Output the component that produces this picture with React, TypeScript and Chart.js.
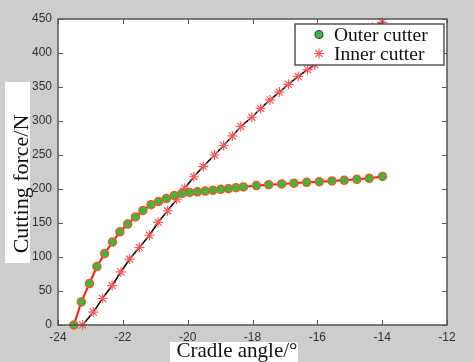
import React, { useEffect, useRef } from "react";
import { Chart, registerables } from "chart.js";

Chart.register(...registerables);

const outerX = [
  -23.51, -23.28, -23.03, -22.8, -22.56, -22.32, -22.09, -21.85, -21.61, -21.38,
  -21.13, -20.9, -20.66, -20.41, -20.17, -19.94, -19.7, -19.46, -19.22, -18.98,
  -18.74, -18.51, -18.28, -17.88, -17.5, -17.1, -16.72, -16.33, -15.94, -15.55,
  -15.17, -14.78, -14.4, -13.99,
];
const outerY = [
  0, 34, 61, 86, 105, 122, 137, 148.5, 159, 168.5,
  177, 181.5, 186, 190.5, 193.5, 195, 195.8, 197, 198, 199.6,
  200.5, 202, 203, 205, 206.3, 207.5, 208.5, 209.8, 210.8, 211.8,
  212.8, 214.3, 215.7, 218.5,
];
const innerX = [
  -23.24, -22.91, -22.63, -22.33, -22.06, -21.79, -21.49, -21.18, -20.91, -20.62,
  -20.34, -20.09, -19.81, -19.52, -19.17, -18.89, -18.62, -18.36, -18.02, -17.75,
  -17.46, -17.17, -16.89, -16.59, -16.3, -16.08, -15.8, -15.5, -15.2, -14.9,
  -14.6, -14.3, -14.0,
];
const innerY = [
  0, 19, 39, 58, 78, 97, 114, 132, 151, 168,
  185, 201, 218, 233, 250, 264, 278, 292, 305.5, 318.5,
  331, 342.5, 354, 365.5, 375.5, 382.5, 392, 402, 412, 421,
  430, 438, 445,
];
const xTicks = [-24, -22, -20, -18, -16, -14, -12];
const yTicks = [0, 50, 100, 150, 200, 250, 300, 350, 400, 450];
const legendLabels = ["Outer cutter", "Inner cutter"];
const xTitle = "Cradle angle/°";
const yTitle = "Cutting force/N";

const GREEN = "#3cb83c";
const OUTER_EDGE = "#e0602a";
const STAR = "#ff5a5a";

export default function App() {
  const ref = useRef<HTMLCanvasElement>(null);

  useEffect(() => {
    if (!ref.current) return;
    const decor = {
      id: "decor",
      beforeDraw(chart: any) {
        const { ctx, chartArea: a, width, height } = chart;
        ctx.save();
        ctx.fillStyle = "#cdcdcd";
        ctx.fillRect(0, 0, width, height);
        ctx.fillStyle = "#ffffff";
        ctx.fillRect(a.left, a.top, a.right - a.left, a.bottom - a.top);
        ctx.restore();
      },
      afterDraw(chart: any) {
        const { ctx, chartArea: a } = chart;
        const xs = chart.scales.x;
        const ys = chart.scales.y;
        ctx.save();
        // frame
        ctx.strokeStyle = "#555555";
        ctx.lineWidth = 1.5;
        ctx.strokeRect(a.left, a.top, a.right - a.left, a.bottom - a.top);
        // inward ticks
        ctx.lineWidth = 1;
        ctx.beginPath();
        const tl = 5;
        xTicks.forEach((v) => {
          const px = Math.round(xs.getPixelForValue(v)) + 0.5;
          ctx.moveTo(px, a.bottom);
          ctx.lineTo(px, a.bottom - tl);
          ctx.moveTo(px, a.top);
          ctx.lineTo(px, a.top + tl);
        });
        yTicks.forEach((v) => {
          const py = Math.round(ys.getPixelForValue(v)) + 0.5;
          ctx.moveTo(a.left, py);
          ctx.lineTo(a.left + tl, py);
          ctx.moveTo(a.right, py);
          ctx.lineTo(a.right - tl, py);
        });
        ctx.stroke();

        // legend
        const lw = 149;
        const lh = 41;
        const lx = a.right - 3 - lw;
        const ly = a.top + 5;
        ctx.fillStyle = "#ffffff";
        ctx.fillRect(lx, ly, lw, lh);
        ctx.strokeStyle = "#555555";
        ctx.lineWidth = 1.5;
        ctx.strokeRect(lx, ly, lw, lh);
        const row1 = ly + 10.5;
        const row2 = ly + 29.5;
        const mx = lx + 24;
        ctx.beginPath();
        ctx.arc(mx, row1, 4, 0, Math.PI * 2);
        ctx.fillStyle = GREEN;
        ctx.fill();
        ctx.strokeStyle = "#2a4a5a";
        ctx.lineWidth = 1.2;
        ctx.stroke();
        ctx.strokeStyle = STAR;
        ctx.lineWidth = 1.2;
        ctx.beginPath();
        const r = 5;
        for (let k = 0; k < 4; k++) {
          const ang = (k * Math.PI) / 4;
          ctx.moveTo(mx - r * Math.cos(ang), row2 - r * Math.sin(ang));
          ctx.lineTo(mx + r * Math.cos(ang), row2 + r * Math.sin(ang));
        }
        ctx.stroke();
        ctx.fillStyle = "#111111";
        ctx.font = "19.5px 'Liberation Serif'";
        ctx.textAlign = "left";
        ctx.textBaseline = "middle";
        ctx.fillText(legendLabels[0], lx + 39, row1 + 1);
        ctx.fillText(legendLabels[1], lx + 39, row2 + 1);

        // axis titles in white boxes
        ctx.fillStyle = "#ffffff";
        ctx.fillRect(170, 342, 128, 20);
        ctx.fillRect(5, 82, 25, 181);
        ctx.fillStyle = "#111111";
        ctx.font = "21px 'Liberation Serif'";
        ctx.textAlign = "center";
        ctx.textBaseline = "alphabetic";
        ctx.fillText(xTitle, 237, 357);
        ctx.save();
        ctx.translate(28, 184);
        ctx.rotate(-Math.PI / 2);
        ctx.font = "22px 'Liberation Serif'";
        ctx.fillText(yTitle, 0, 0);
        ctx.restore();
        ctx.restore();
      },
    };

    const tickFont = { family: "'Liberation Sans', Arial, sans-serif", size: 12 };
    const chart = new Chart(ref.current, {
      type: "scatter",
      data: {
        datasets: [
          {
            label: legendLabels[0],
            data: outerX.map((x, i) => ({ x, y: outerY[i] })),
            showLine: true,
            borderColor: "#ff1a1a",
            borderWidth: 2,
            pointRadius: 4,
            pointBackgroundColor: GREEN,
            pointBorderColor: OUTER_EDGE,
            pointBorderWidth: 1.5,
            clip: false,
          } as any,
          {
            label: legendLabels[1],
            data: innerX.map((x, i) => ({ x, y: innerY[i] })),
            showLine: true,
            borderColor: "#000000",
            borderWidth: 1.5,
            pointStyle: "star",
            pointRadius: 5,
            pointBorderColor: STAR,
            pointBackgroundColor: STAR,
            pointBorderWidth: 1.2,
            clip: false,
          } as any,
        ],
      },
      options: {
        responsive: false,
        animation: false,
        layout: { padding: { left: 8, right: 27, top: 19, bottom: 0 } },
        plugins: { legend: { display: false }, tooltip: { enabled: false } },
        scales: {
          x: {
            type: "linear",
            min: -24,
            max: -12,
            afterBuildTicks: (s: any) => {
              s.ticks = xTicks.map((v) => ({ value: v }));
            },
            afterFit: (s: any) => {
              s.height = 37;
            },
            grid: { display: false, drawTicks: false },
            border: { display: false },
            ticks: { padding: 5, color: "#333333", font: tickFont, maxRotation: 0, autoSkip: false },
          },
          y: {
            type: "linear",
            min: 0,
            max: 450,
            afterBuildTicks: (s: any) => {
              s.ticks = yTicks.map((v) => ({ value: v }));
            },
            afterFit: (s: any) => {
              s.width = 50;
            },
            grid: { display: false, drawTicks: false },
            border: { display: false },
            ticks: { padding: 6, color: "#333333", font: tickFont, autoSkip: false },
          },
        },
      },
      plugins: [decor],
    });
    return () => chart.destroy();
  }, []);

  return (
    <div style={{ position: "fixed", left: 0, top: 0, width: 474, height: 362 }}>
      <canvas ref={ref} width={474} height={362} style={{ display: "block", width: 474, height: 362 }} />
    </div>
  );
}
